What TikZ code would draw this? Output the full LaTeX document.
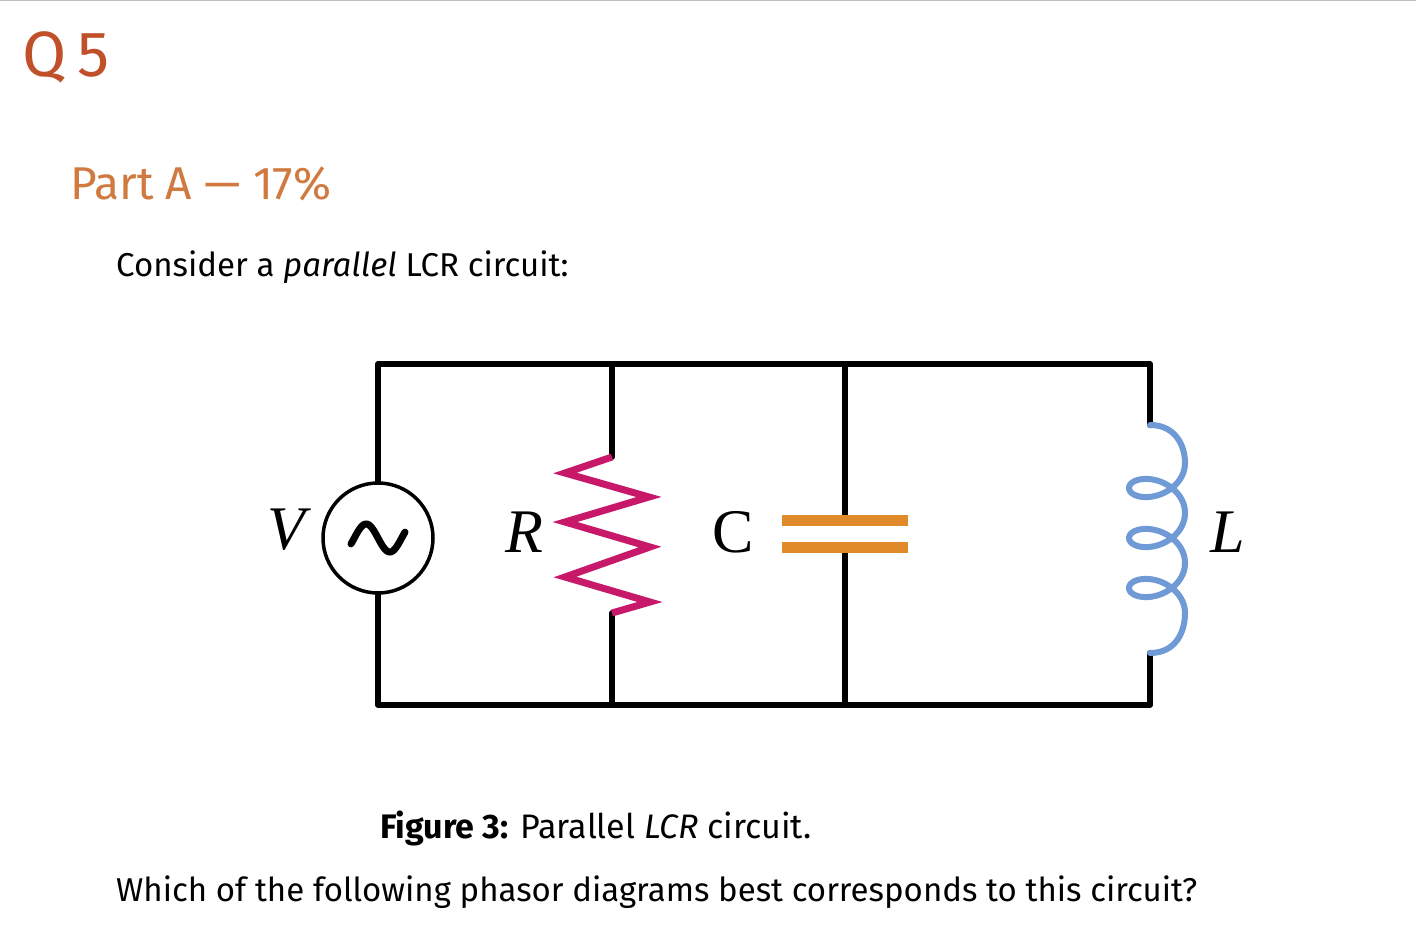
\documentclass[tikz,border=0pt]{standalone}
\usepackage{fontspec}
\setmainfont{Fira Sans}
\newfontfamily\serifl{Liberation Serif}
\definecolor{qred}{HTML}{C0502A}
\definecolor{porange}{HTML}{D07A40}
\definecolor{resm}{HTML}{C8186A}
\definecolor{capo}{HTML}{E08A2A}
\definecolor{indb}{HTML}{6F9AD6}
\tikzset{wire/.style={line width=6pt,line cap=round,line join=round},
 txt/.style={anchor=base west,inner sep=0pt},
 lab/.style={font=\fontsize{62}{62}\selectfont\serifl\itshape,inner sep=0pt}}
\begin{document}
\begin{tikzpicture}[x=1pt,y=-1pt]
\useasboundingbox (0,0) rectangle (1416,934);
\fill[white] (0,0) rectangle (1416,934);
\draw[gray!50,line width=1pt] (0,1) -- (1416,1);
\node[txt,text=qred,font=\fontsize{64}{64}\selectfont] (q) at (22,77) {Q\,5};
\node[txt,text=porange,font=\fontsize{46}{46}\selectfont] (pa) at (70,199) {Part A — 17\%};
\node[txt,font=\fontsize{33}{33}\selectfont] (cons) at (116,276) {Consider a \textit{parallel} LCR circuit:};
% wires
\coordinate (tl) at (378,364); \coordinate (tr) at (1150,364);
\coordinate (bl) at (378,705); \coordinate (br) at (1150,705);
\coordinate (t2) at (612,364); \coordinate (b2) at (612,705);
\coordinate (t3) at (845,364); \coordinate (b3) at (845,705);
\node[circle,draw,line width=3.5pt,minimum size=110pt,inner sep=0pt] (src) at (378,538) {};
\draw[wire] (src.north) -- (tl) -- (tr) -- (1150,425) coordinate (li);
\draw[wire] (src.south) -- (bl) -- (br) -- (1150,653) coordinate (lo);
\draw[wire] (t2) -- (612,457) coordinate (ri);
\draw[wire] (b2) -- (612,613) coordinate (ro);
\draw[wire] (t3) -- (845,522) coordinate (ci);
\draw[wire] (b3) -- (845,546) coordinate (co);
\draw[line width=7pt,line cap=round,domain=-205:205,samples=80,smooth]
  plot ({378+\x*27/205},{538+14*sin(\x)});
% resistor
\draw[resm,line width=7pt,line join=miter] (ri) -- (565,473) -- (649,497) -- (565,522) -- (650,547) -- (565,577) -- (650,602) -- (ro);
% capacitor
\fill[capo] (782,515) rectangle (908,526);
\fill[capo] (782,542) rectangle (908,553);
% inductor
\draw[indb,line width=6pt,line cap=round]
  (li) .. controls (1175,425) and (1185,445) .. (1185,463)
  plot[domain=0:1080,samples=240,smooth] ({1157+28*cos(\x)},{463+\x/7.2+20*sin(\x)})
  .. controls (1185,633) and (1175,653) .. (lo);
\node[lab] (V) at (286,530) {V};
\node[lab] (R) at (524,532) {R};
\node[lab,font=\fontsize{62}{62}\selectfont\serifl] (C) at (733,532) {C};
\node[lab] (L) at (1228,532) {L};
\node[txt,font=\fontsize{34}{34}\selectfont] (cap) at (380,838) {\textbf{Figure 3:} Parallel \textit{LCR} circuit.};
\node[txt,font=\fontsize{33}{33}\selectfont] (qq) at (116,901) {Which of the following phasor diagrams best corresponds to this circuit?};
\end{tikzpicture}
\end{document}
